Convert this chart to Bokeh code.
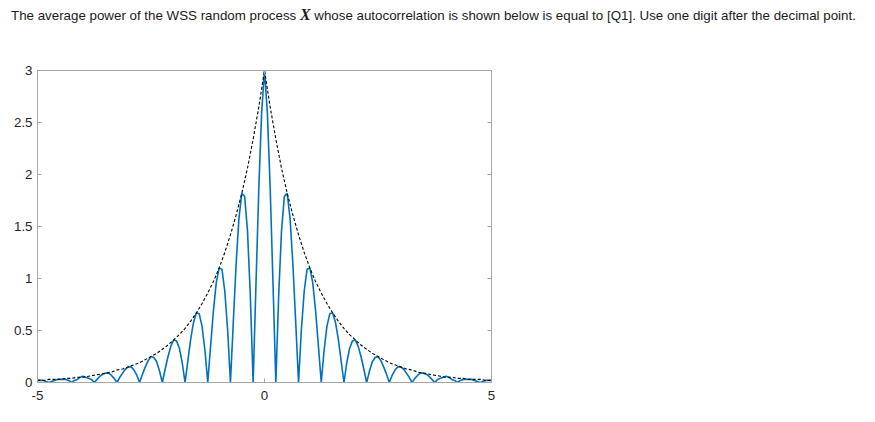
from bokeh.plotting import figure
from bokeh.models import Range1d, FixedTicker, LinearAxis, CustomJSTickFormatter, Div
from bokeh.layouts import column
from bokeh.embed import file_html
from bokeh.resources import INLINE

# ---- data ----
# sampling positions (tau >= 0), step 1/16; curve is symmetric about tau = 0
tau_pos = [k / 16 for k in range(81)]
r_pos = [
    3.00, 2.60, 1.87, 0.95, 0.00, 0.84, 1.46, 1.79,
    1.82, 1.58, 1.14, 0.58, 0.00, 0.51, 0.88, 1.09,
    1.10, 0.96, 0.69, 0.35, 0.00, 0.31, 0.54, 0.66,
    0.67, 0.58, 0.42, 0.21, 0.00, 0.19, 0.33, 0.40,
    0.41, 0.35, 0.25, 0.13, 0.00, 0.11, 0.20, 0.24,
    0.25, 0.21, 0.15, 0.08, 0.00, 0.07, 0.12, 0.15,
    0.15, 0.13, 0.09, 0.05, 0.00, 0.04, 0.07, 0.09,
    0.09, 0.08, 0.06, 0.03, 0.00, 0.03, 0.04, 0.05,
    0.06, 0.05, 0.03, 0.02, 0.00, 0.02, 0.03, 0.03,
    0.03, 0.03, 0.02, 0.01, 0.00, 0.01, 0.02, 0.02,
    0.02,
]
# envelope (dashed), step 1/8
env_tau_pos = [k / 8 for k in range(41)]
env_pos = [
    3.00, 2.65, 2.34, 2.06, 1.82, 1.61, 1.42, 1.25, 1.10, 0.97,
    0.86, 0.76, 0.67, 0.59, 0.52, 0.46, 0.41, 0.36, 0.32, 0.28,
    0.25, 0.22, 0.19, 0.17, 0.15, 0.13, 0.12, 0.10, 0.09, 0.08,
    0.07, 0.06, 0.05, 0.05, 0.04, 0.04, 0.03, 0.03, 0.03, 0.02,
    0.02,
]
x_ticks = [-5, 0, 5]
y_ticks = [0, 0.5, 1, 1.5, 2, 2.5, 3]

title_part1 = "The average power of the WSS random process"
title_symbol = "X"
title_part2 = "whose autocorrelation is shown below is equal to [Q1]. Use one digit after the decimal point."

# mirror to negative tau
tau = [-t for t in reversed(tau_pos[1:])] + tau_pos
r = list(reversed(r_pos[1:])) + r_pos
env_tau = [-t for t in reversed(env_tau_pos[1:])] + env_tau_pos
env = list(reversed(env_pos[1:])) + env_pos

title_html = (
    '<div style="font-family:\'Liberation Sans\';font-size:13.33px;color:#1a1a1a;'
    'padding-left:11px;padding-top:4px;white-space:nowrap;">'
    + title_part1
    + ' <span style="font-family:\'Liberation Serif\';font-size:16px;font-weight:bold;font-style:italic;">'
    + title_symbol + '</span> ' + title_part2 + '</div>'
)
div = Div(text=title_html, width=870, height=30, margin=(0, 0, 0, 0))

p = figure(width=870, height=388, output_backend="svg", toolbar_location=None,
           x_range=Range1d(-5, 5), y_range=Range1d(0, 3),
           min_border_left=37, min_border_right=379, min_border_top=40, min_border_bottom=36,
           margin=(0, 0, 0, 0))
p.xgrid.visible = False
p.ygrid.visible = False
p.outline_line_color = None
p.background_fill_color = "white"
p.border_fill_color = "white"

p.line(tau, r, line_color="#0072BD", line_width=1.6)
p.line(env_tau, env, line_color="black", line_width=1.1, line_dash="3 2")

p.add_layout(LinearAxis(), "right")
p.add_layout(LinearAxis(), "above")

fmt = "return tick.toString();"
for ax in p.axis:
    ax.axis_line_color = "#a6a6a6"
    ax.major_tick_line_color = "#a6a6a6"
    ax.major_tick_in = 4
    ax.major_tick_out = 0
    ax.minor_tick_line_color = None
    ax.major_label_text_font = "Liberation Sans"
    ax.major_label_text_font_size = "13.33px"
    ax.major_label_text_color = "#262626"
    ax.formatter = CustomJSTickFormatter(code=fmt)

for ax in p.xaxis:
    ax.ticker = FixedTicker(ticks=x_ticks)
    ax.major_label_standoff = 8
for ax in p.yaxis:
    ax.ticker = FixedTicker(ticks=y_ticks)
    ax.major_label_standoff = 5

p.right[0].major_label_text_color = None
p.above[0].major_label_text_color = None

layout = column(div, p, spacing=0)
open("out.html", "w").write(file_html(layout, INLINE))
